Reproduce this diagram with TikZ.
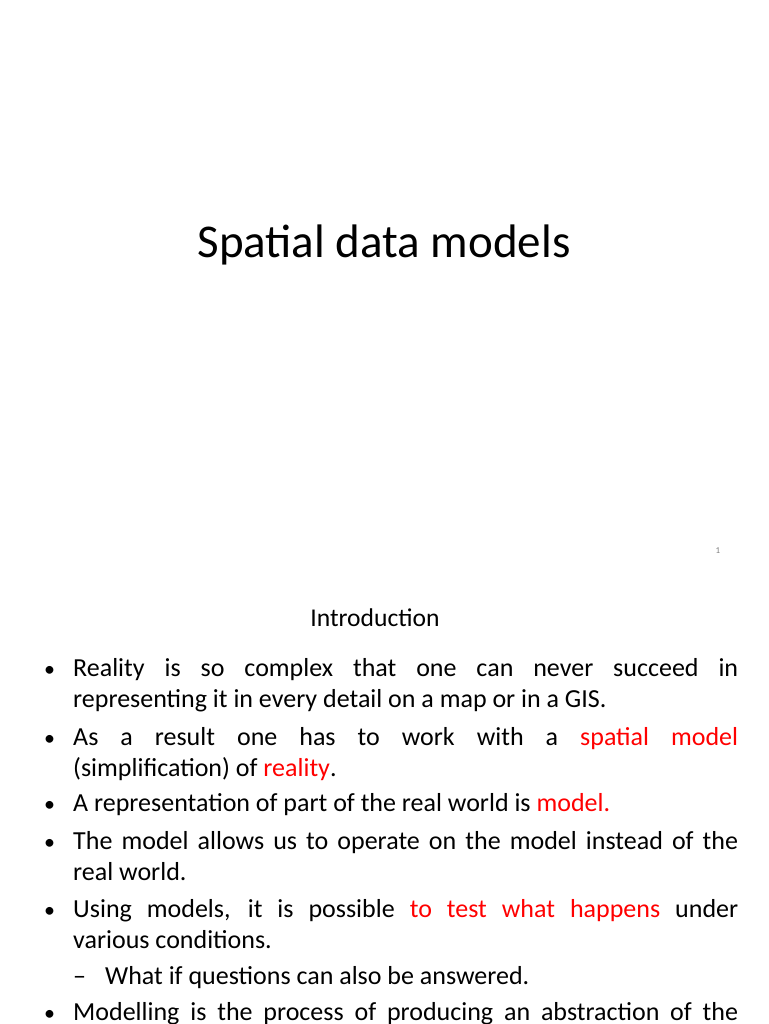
\documentclass[tikz,border=0pt]{standalone}
\usepackage{fontspec}
\setmainfont{Carlito}
\definecolor{hl}{RGB}{255,0,0}
\tikzset{para/.style={anchor=base west,inner sep=0pt,font=\fontsize{26}{31}\selectfont},
 bul/.style={anchor=base west,inner sep=0pt,font=\fontsize{22}{31}\selectfont}}
\newcommand{\R}[1]{\textcolor{hl}{#1}}
\begin{document}
\begin{tikzpicture}[x=1pt,y=-1pt]
\useasboundingbox[fill=white] (0,0) rectangle (768,1024);
\node[anchor=base,inner sep=0pt,font=\fontsize{47}{54}\selectfont] (title) at (384,258) {Spatial data models};
\node[anchor=base,inner sep=0pt,font=\fontsize{9}{10}\selectfont,text=gray] (pg) at (718,553) {1};
\node[anchor=base,inner sep=0pt,font=\fontsize{25.6}{28}\selectfont] (intro) at (375,626) {Introduction};
\foreach \y/\n in {676/b1,745/b2,811/b3,849/b4,917/b5,1020/b7}{
  \node[bul] (\n) at (44,\y) {•};}
\node[bul,font=\fontsize{26}{31}\selectfont] (d6) at (73,984) {–};
\node[para] (p1) at (73,676) {\parbox[t]{665pt}{Reality is so complex that one can never succeed in\linebreak representing it in every detail on a map or in a GIS.}};
\node[para] (p2) at (73,745) {\parbox[t]{665pt}{As a result one has to work with a \R{spatial model}\linebreak (simplification) of \R{reality}.}};
\node[para] (p3) at (73,811) {\parbox[t]{665pt}{A representation of part of the real world is \R{model.}}};
\node[para] (p4) at (73,849) {\parbox[t]{665pt}{The model allows us to operate on the model instead of the\linebreak real world.}};
\node[para] (p5) at (73,917) {\parbox[t]{665pt}{Using models, it is possible \R{to test what happens} under\linebreak various conditions.}};
\node[para] (p6) at (105,984) {What if questions can also be answered.};
\node[para] (p7) at (73,1020) {\parbox[t]{665pt}{Modelling is the process of producing an abstraction of the\linebreak x}};
\end{tikzpicture}
\end{document}
